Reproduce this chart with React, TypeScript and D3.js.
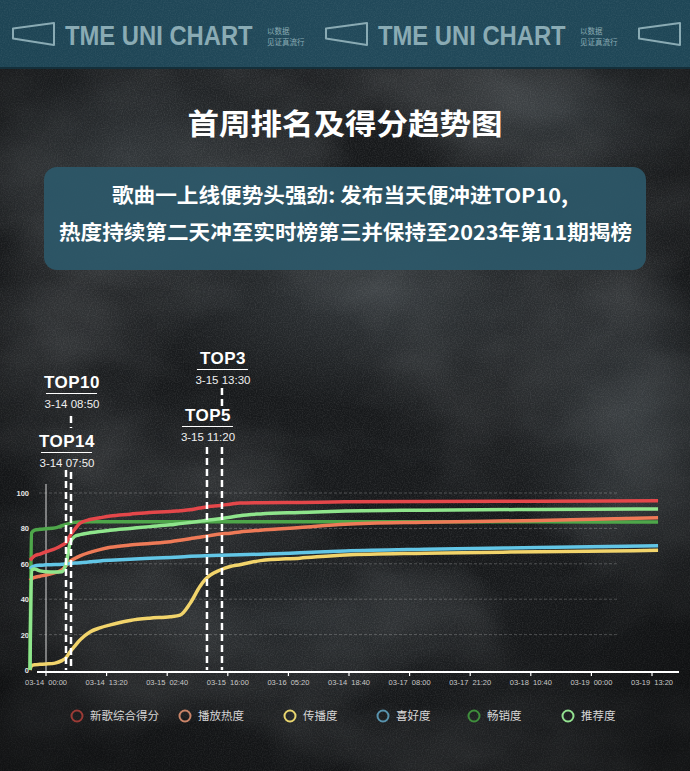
import React from 'react';
import * as d3 from 'd3';

// ---------- DATA ----------
// minutes since 03-14 00:00
const times = [-211, -190, -150, -80, 0, 120, 210, 265, 320, 380, 450, 580, 710, 850, 1110, 1370, 1640, 1770, 1900, 2030, 2100, 2300, 2430, 2560, 2830, 3350, 3950, 5000, 6500, 8080];

const compositeScore = [62, 63, 64.5, 65.5, 66.8, 68.5, 70.5, 72, 76, 79.5, 83, 85, 86, 87, 88, 89, 89.5, 90, 90.5, 91.5, 92, 93, 93.7, 94.3, 94.5, 94.7, 95, 95.2, 95.4, 95.6];
const playHeat = [50.5, 51.5, 52.3, 53, 53.7, 55, 56.5, 59, 61.5, 63, 64.5, 66.5, 68, 69.3, 70.6, 71.5, 72.5, 73.3, 74.2, 75, 75.5, 76.8, 77.3, 78, 79, 80.5, 82.3, 83.5, 84.5, 86];
const spreadScore = [0, 2.5, 3, 3.2, 3.4, 3.9, 5.3, 7, 10.4, 13.5, 17, 21.5, 23.8, 25.5, 28, 29.3, 30.1, 31, 37.5, 47, 51, 56.5, 58.5, 59.5, 61.8, 63.2, 65, 66, 66.8, 67.6];
const likeScore = [57, 58, 58.8, 59.2, 59.4, 59.6, 59.8, 60, 60.2, 60.4, 60.6, 61.1, 61.6, 62, 62.6, 63.1, 63.6, 63.9, 64.2, 64.4, 64.5, 64.8, 65, 65.1, 65.4, 66.2, 67.2, 68.2, 69.2, 70.2];
const salesScore = [0, 77.5, 79, 79.5, 79.8, 80.3, 81.5, 82.3, 83, 83.4, 83.6, 83.8, 83.8, 83.8, 83.8, 83.8, 83.8, 83.8, 83.8, 83.8, 83.8, 83.8, 83.8, 83.8, 83.8, 83.8, 83.8, 83.8, 83.7, 83.6];
const recommendScore = [0, 56.5, 57, 56, 55.5, 55.3, 55.5, 60, 72, 75.5, 76.5, 77.5, 78.3, 79, 80, 81, 82, 82.7, 83.3, 84, 84.5, 85.5, 86.3, 87.2, 88.2, 89, 89.8, 90.3, 90.7, 91];

const seriesNames = ['新歌综合得分', '播放热度', '传播度', '喜好度', '畅销度', '推荐度'];

const xTickTimes = [0, 800, 1600, 2400, 3200, 4000, 4800, 5600, 6400, 7200, 8000];
const xTickLabels = ['03-14 00:00', '03-14 13:20', '03-15 02:40', '03-15 16:00', '03-16 05:20', '03-14 18:40', '03-17 08:00', '03-17 21:20', '03-18 10:40', '03-19 00:00', '03-19 13:20'];
const yTicks = [0, 20, 40, 60, 80, 100];

const rankLabels = ['TOP14', 'TOP10', 'TOP5', 'TOP3'];
const rankDates = ['3-14 07:50', '3-14 08:50', '3-15 11:20', '3-15 13:30'];
const rankMarkTimes = [264, 330, 2125, 2323];

const titleText = '首周排名及得分趋势图';
const boxLine1 = '歌曲一上线便势头强劲: 发布当天便冲进TOP10,';
const boxLine2 = '热度持续第二天冲至实时榜第三并保持至2023年第11期揭榜';
const brandText = 'TME UNI CHART';
const sloganLines = ['以数据', '见证真流行'];

// ---------- STYLE / LAYOUT ----------
const W = 690;
const H = 771;
const seriesColors = ['#e4474a', '#ee7a57', '#f2d46b', '#62c6e6', '#4ea64a', '#8fe58c'];
const legendColors = ['#9a3b36', '#c98468', '#e8d56e', '#5893ad', '#3f8e3c', '#93e290'];
const drawOrder = [4, 1, 3, 2, 5, 0];
const legendX = [77, 185, 290, 383, 474, 568];
const rankLabelY = [447, 388, 421, 364];
const rankSegments = [
  [[470, 670]],
  [[416, 428], [472, 670]],
  [[447, 670]],
  [[388, 406], [447, 670]],
];
const LATIN = "'Liberation Sans', Arial, sans-serif";
const CJK = "'Noto Sans CJK SC', 'Noto Sans', sans-serif";

const seriesData = [compositeScore, playHeat, spreadScore, likeScore, salesScore, recommendScore];

export default function App() {
  const x = d3.scaleLinear().domain([0, 8000]).range([46, 652]);
  const y = d3.scaleLinear().domain([0, 100]).range([670, 493]);
  const line = d3
    .line<number>()
    .x((_, i) => x(times[i]))
    .y((d) => y(d))
    .curve(d3.curveMonotoneX);

  const header = [0, 1, 2].map((i) => i * 313);

  return (
    <div style={{ position: 'fixed', left: 0, top: 0, width: W, height: H }}>
      <svg width={W} height={H} viewBox={`0 0 ${W} ${H}`} style={{ display: 'block' }}>
        <defs>
          <filter id="clouds" x="0" y="0" width="100%" height="100%">
            <feTurbulence type="fractalNoise" baseFrequency="0.0045 0.007" numOctaves={4} seed={7} />
            <feColorMatrix type="matrix" values="0 0 0 0 0.62  0 0 0 0 0.66  0 0 0 0 0.68  1.1 0 0 0 -0.42" />
          </filter>
          <filter id="grain" x="0" y="0" width="100%" height="100%">
            <feTurbulence type="fractalNoise" baseFrequency="0.85" numOctaves={2} seed={3} />
            <feColorMatrix type="matrix" values="0 0 0 0 1  0 0 0 0 1  0 0 0 0 1  0.5 0 0 0 -0.18" />
          </filter>
          <radialGradient id="glowA" cx="0.5" cy="0.5" r="0.5">
            <stop offset="0" stopColor="#4a5155" stopOpacity="0.55" />
            <stop offset="1" stopColor="#4a5155" stopOpacity="0" />
          </radialGradient>
          <radialGradient id="vignette" cx="0.5" cy="0.45" r="0.75">
            <stop offset="0.55" stopColor="#000" stopOpacity="0" />
            <stop offset="1" stopColor="#000" stopOpacity="0.45" />
          </radialGradient>
          <linearGradient id="hdr" x1="0" y1="0" x2="1" y2="0">
            <stop offset="0" stopColor="#1d4454" />
            <stop offset="0.5" stopColor="#21495a" />
            <stop offset="1" stopColor="#1e4656" />
          </linearGradient>
          <clipPath id="hdrClip">
            <rect x={0} y={0} width={W} height={68} />
          </clipPath>
        </defs>

        {/* background */}
        <rect x={0} y={0} width={W} height={H} fill="#17191b" />
        <ellipse cx={130} cy={160} rx={220} ry={130} fill="url(#glowA)" />
        <ellipse cx={380} cy={290} rx={260} ry={120} fill="url(#glowA)" />
        <ellipse cx={640} cy={420} rx={140} ry={170} fill="url(#glowA)" />
        <ellipse cx={560} cy={110} rx={180} ry={80} fill="url(#glowA)" />
        <ellipse cx={300} cy={620} rx={220} ry={90} fill="url(#glowA)" opacity={0.5} />
        <rect x={0} y={0} width={W} height={H} filter="url(#clouds)" opacity={0.35} />
        <rect x={0} y={0} width={W} height={H} filter="url(#grain)" opacity={0.35} />
        <rect x={0} y={0} width={W} height={H} fill="url(#vignette)" />

        {/* header band */}
        <rect x={0} y={0} width={W} height={68} fill="url(#hdr)" />
        <rect x={0} y={0} width={W} height={68} filter="url(#grain)" opacity={0.25} />
        <rect x={0} y={67} width={W} height={2} fill="#142f3a" />
        <g clipPath="url(#hdrClip)">
          {header.map((o, i) => (
            <g key={i} transform={`translate(${o},0)`} fill="#8aabb4" stroke="none">
              <path
                d="M13,28.5 L54,23 L54,45 L13,38.5 Z"
                fill="none"
                stroke="#8aabb4"
                strokeWidth={2}
                strokeLinejoin="round"
              />
              {i < 2 && (
                <>
                  <text
                    transform="translate(65,45) scale(1,1.17)"
                    fontFamily={LATIN}
                    fontWeight={700}
                    fontSize={23.8}
                  >
                    {brandText}
                  </text>
                  <text fontFamily={CJK} fontSize={7.5}>
                    <tspan x={267} y={34}>
                      {sloganLines[0]}
                    </tspan>
                    <tspan x={267} y={45}>
                      {sloganLines[1]}
                    </tspan>
                  </text>
                </>
              )}
            </g>
          ))}
        </g>

        {/* title */}
        <text
          x={W / 2}
          y={135}
          textAnchor="middle"
          fill="#ffffff"
          fontFamily={CJK}
          fontWeight={700}
          fontSize={29}
          textLength={315}
          lengthAdjust="spacingAndGlyphs"
        >
          {titleText}
        </text>

        {/* summary box */}
        <rect x={44} y={167} width={602} height={103} rx={13} fill="#2c5869" opacity={0.92} />
        <text
          x={340}
          y={203}
          textAnchor="middle"
          fill="#ffffff"
          fontFamily={CJK}
          fontWeight={700}
          fontSize={20}
          textLength={456}
          lengthAdjust="spacingAndGlyphs"
        >
          {boxLine1}
        </text>
        <text
          x={345.5}
          y={240}
          textAnchor="middle"
          fill="#ffffff"
          fontFamily={CJK}
          fontWeight={700}
          fontSize={20}
          textLength={573}
          lengthAdjust="spacingAndGlyphs"
        >
          {boxLine2}
        </text>

        {/* gridlines */}
        {yTicks.slice(1).map((v) => (
          <line
            key={v}
            x1={39}
            x2={619}
            y1={y(v)}
            y2={y(v)}
            stroke="#ffffff"
            strokeOpacity={0.22}
            strokeWidth={1}
            strokeDasharray="3,2"
          />
        ))}
        {yTicks.map((v) => (
          <text
            key={v}
            x={29}
            y={y(v) + 3}
            textAnchor="end"
            fill="#e6e6e6"
            fontFamily={LATIN}
            fontWeight={700}
            fontSize={7.5}
          >
            {v}
          </text>
        ))}

        {/* release-time vertical line */}
        <line x1={x(0)} x2={x(0)} y1={484} y2={672} stroke="#d8d8d8" strokeWidth={1} />

        {/* series lines */}
        {drawOrder.map((si) => (
          <path
            key={si}
            d={line(seriesData[si]) || ''}
            fill="none"
            stroke={seriesColors[si]}
            strokeWidth={3.5}
            strokeLinecap="butt"
            strokeLinejoin="round"
          />
        ))}

        {/* rank annotations */}
        {rankLabels.map((lab, i) => {
          const mx = x(rankMarkTimes[i]);
          const ly = rankLabelY[i];
          return (
            <g key={lab}>
              {rankSegments[i].map((s, j) => (
                <line
                  key={j}
                  x1={mx}
                  x2={mx}
                  y1={s[0]}
                  y2={s[1]}
                  stroke="#ffffff"
                  strokeWidth={2.5}
                  strokeDasharray="7,4"
                />
              ))}
              <text
                x={mx + 1}
                y={ly}
                textAnchor="middle"
                fill="#ffffff"
                fontFamily={LATIN}
                fontWeight={700}
                fontSize={17}
                letterSpacing={0.5}
              >
                {lab}
              </text>
              <line x1={mx - 25} x2={mx + 26} y1={ly + 5.5} y2={ly + 5.5} stroke="#ffffff" strokeWidth={1} />
              <text
                x={mx + 1}
                y={ly + 19.5}
                textAnchor="middle"
                fill="#f0f0f0"
                fontFamily={LATIN}
                fontSize={11.5}
              >
                {rankDates[i]}
              </text>
            </g>
          );
        })}

        {/* x axis */}
        <line x1={37} x2={679} y1={672} y2={672} stroke="#ffffff" strokeWidth={2} />
        {xTickTimes.map((t, i) => (
          <g key={t}>
            <line x1={x(t)} x2={x(t)} y1={672} y2={676} stroke="#ffffff" strokeWidth={1.2} />
            <text
              x={x(t)}
              y={685}
              textAnchor="middle"
              fill="#c8c8c8"
              fontFamily={LATIN}
              fontSize={7.5}
              wordSpacing={2}
            >
              {xTickLabels[i]}
            </text>
          </g>
        ))}

        {/* legend */}
        {seriesNames.map((name, i) => (
          <g key={name}>
            <circle cx={legendX[i]} cy={716} r={5.5} fill="none" stroke={legendColors[i]} strokeWidth={2} />
            <text x={legendX[i] + 13} y={720} fill="#d6d6d6" fontFamily={CJK} fontSize={11.5}>
              {name}
            </text>
          </g>
        ))}
      </svg>
    </div>
  );
}
